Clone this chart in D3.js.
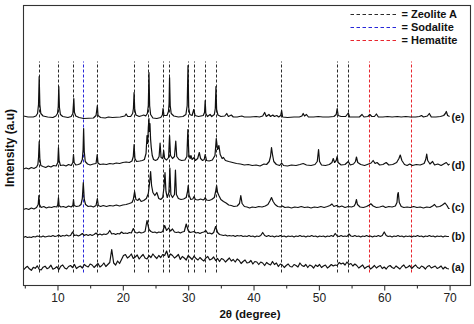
<!DOCTYPE html>
<html>
<head>
<meta charset="utf-8">
<script src="https://cdn.jsdelivr.net/npm/d3@7"></script>
<style>
  body { margin: 0; background: #fff; }
  svg { display: block; font-family: "Liberation Sans", Arial, Helvetica, sans-serif; }
</style>
</head>
<body>
<svg id="chart" width="474" height="324"></svg>
<script>
// ---- XRD patterns, 2θ in degrees, intensity in arbitrary units ----
const sampleLabels = ["(a)", "(b)", "(c)", "(d)", "(e)"];
const stackOffsets = [18, 49, 78, 120, 168];   // vertical shift of each pattern (a.u.)

// (a) and (b) recorded on a uniform 2θ grid
const gridStart = 4.8;
const gridStep = 0.3;

const traceA = [
  -2.3, -0.3, 1.2, -1.3, -2.8, 0.2, -0.8, 1.7, -1.8, -2.5,
  0.3, 1.3, -1.2, -0.2, 2.3, -1.7, -0.7, 0.8, -2.2, 1.3,
  2.5, -0.5, -1.5, 1, 2, 0, 3, -1, 0.5, 1.5,
  -0.5, 3, 1.5, 0.5, 3.5, 2.5, 0, 2, 4, 0.5,
  2, 4.5, 1, 3, 5, 18, 4.5, 2.5, 6.5, 4,
  8, 12, 13, 9.5, 11, 13.5, 9, 10.5, 12.5, 8.5,
  11, 13, 9.5, 8.5, 12, 10, 13.5, 11, 9, 12,
  10, 13, 12, 16.5, 10, 13.5, 12, 9.5, 11, 13,
  8, 11, 9.5, 7.5, 12, 10, 8, 11.5, 9, 7.5,
  10, 8, 6.5, 9.5, 11, 7.5, 8.5, 10.5, 7, 9,
  6, 9, 8, 5.5, 7.5, 9.5, 6.5, 8, 5.5, 8.5,
  7, 4, 6, 7.5, 4.5, 5, 7, 3.5, 6, 5.5,
  3, 5.5, 4.5, 2, 5, 3.5, 2.5, 6, 3, 4.5,
  1, 3.5, 2.5, 0, 2, 3.5, 1, 0.5, 3, 2,
  0.5, 4.5, 2, 1, 3, 0, 2.5, 1.5, -0.5, 2.5,
  1, 3, 0, 1.5, 2.5, -0.5, 1, 3, 1.5, 2.5,
  2, 5, 3.5, 4.5, 2.5, 5.5, 3, 4, 1.5, 3.5,
  2, -0.5, 1, 2.5, -1, 0.5, 1.5, -1.5, 0, 2,
  -0.5, 1, 2, -1, 0.5, -1.5, 1, 2, 0, -1,
  1.5, 0, -1.5, 1, 2.5, -0.5, 0.5, 2, -1, 1,
  2.5, 0, -1, 1.5, 0.5, -1.5, 1, 2, -0.5, 0.5,
  1.5, -1, 0, 1.5, -1.5, 0.5, -1, -1.5
];

const traceB = [
  -1, 0, -1, -0.5, -1, 0, -0.5, 0.5, 0, -0.5,
  0.5, -0.5, 0, 0.5, 0, 1, 0, 0.5, 1.5, 0,
  1, 0.5, 1.5, 0.5, 1, 4.5, 1, 1.5, 0.5, 1.5,
  3, 1, 2, 1, 2, 1, 2, 3.5, 1.5, 2.5,
  1.5, 2.5, 2, 3, 6, 2.5, 3, 2, 3, 2.5,
  4.5, 3, 3.5, 3, 4, 3.5, 8, 4, 3.5, 4.5,
  3.5, 4, 5, 16, 7, 5, 4, 4.5, 3.5, 4.5,
  4, 5, 11, 6, 8.5, 5.5, 7.5, 4.5, 4, 4.5,
  3.5, 4.5, 5, 12.5, 6, 4, 4.5, 5, 3.5, 4,
  3, 4, 4.5, 6, 3, 3.5, 2.5, 4, 10, 4,
  2, 1.5, 1, 1.5, 0.5, 1, 0.5, 1, 0, 1,
  0.5, 1, 0, 0.5, 0, 1, 0, 0.5, -0.5, 0.5,
  0, 1, 4, 1, 0, 1, 0, 0.5, -0.5, 0.5,
  0, 1, 0, 0.5, -0.5, 0.5, 0, 0.5, -0.5, 0.5,
  0, 1, 0, 0.5, -0.5, 0.5, 0, 1, 0, 0.5,
  -0.5, 0.5, 0, 0.5, -0.5, 0.5, 0, 1, 0, 3,
  0.5, 0, 1, 0, 0.5, 0, 2.5, 0.5, 0, 1,
  0, 0.5, -0.5, 0.5, 0, 1, 0, 0.5, -0.5, 0.5,
  0, 1, 0, 1, 4.5, 1, 0, 0.5, -0.5, 0.5,
  0, 1, 0, 0.5, -0.5, 0.5, 0, 0.5, -0.5, 0.5,
  0, 1, 0, 0.5, -0.5, 0.5, 0, 1, 0, 0.5,
  -0.5, 0.5, 0, 0.5, -0.5, 0.5, 0, 0
];

// (c), (d), (e) as [2θ, intensity] pairs
const traceC = [
  [4.8, -2], [5.2, -1], [5.6, -2], [6.0, -0.5], [6.4, -1.5], [6.8, 0], [7.05, 3], [7.15, 12], [7.25, 3], [7.5, 0],
  [7.9, 1], [8.3, -0.5], [8.7, 0.5], [9.1, 0], [9.5, 1], [9.9, 0.5], [10.05, 3], [10.15, 10], [10.25, 2], [10.5, 0.5],
  [10.9, 1], [11.3, 0], [11.7, 1.5], [12.1, 0.5], [12.35, 2], [12.45, 8], [12.55, 2], [12.9, 1], [13.3, 1.5], [13.6, 3],
  [13.8, 9], [13.95, 25], [14.1, 8], [14.3, 3], [14.7, 1], [15.1, 1.5], [15.5, 0.5], [15.9, 2], [16.1, 9], [16.25, 2],
  [16.6, 1], [17.0, 2], [17.5, 1], [18.0, 2], [18.5, 1.5], [19.0, 2.5], [19.5, 1.5], [20.0, 2.5], [20.5, 3], [21.0, 4],
  [21.4, 5], [21.6, 8], [21.8, 16], [22.0, 8], [22.3, 7], [22.5, 9], [22.8, 6], [23.2, 7], [23.6, 9], [23.9, 14],
  [24.1, 25], [24.25, 36], [24.4, 22], [24.6, 15], [24.9, 12], [25.2, 15], [25.5, 9], [25.8, 8], [26.1, 10], [26.3, 20],
  [26.45, 35], [26.6, 16], [26.8, 10], [27.05, 15], [27.2, 39.5], [27.35, 13], [27.6, 10], [27.9, 13], [28.05, 37.5], [28.2, 13],
  [28.5, 9], [28.9, 8], [29.3, 8.5], [29.7, 10], [29.9, 16], [30.0, 22], [30.15, 12], [30.4, 8], [30.7, 8.5], [30.9, 11],
  [31.1, 8], [31.5, 7.5], [31.9, 8.5], [32.3, 7.5], [32.5, 8.5], [32.6, 10], [32.8, 7.5], [33.2, 7], [33.6, 8], [34.0, 10],
  [34.2, 16], [34.35, 22], [34.5, 15], [34.7, 12], [35.0, 8], [35.4, 6], [35.8, 4.5], [36.2, 2.5], [36.6, 2], [37.0, 1],
  [37.5, 1.5], [37.85, 4], [38.05, 12], [38.25, 4], [38.6, 1], [39.0, 0.5], [39.4, -0.5], [39.8, 0.5], [40.3, 0], [40.8, 1],
  [41.3, 0.5], [41.8, 1.5], [42.2, 3], [42.5, 6.5], [42.75, 10], [43.0, 6], [43.3, 3], [43.7, 1], [44.1, 0.5], [44.4, 1.5],
  [44.8, 0], [45.3, 0.5], [45.8, -0.5], [46.3, 0.5], [46.8, 0], [47.3, 1], [47.8, 0], [48.3, 0.5], [48.8, -0.5], [49.3, 0.5],
  [49.8, 0], [50.3, 1], [50.8, 0], [51.3, 1], [51.7, 2], [52.0, 3.5], [52.3, 1], [52.7, 2], [53.1, 0.5], [53.5, 1.5],
  [54.0, 0], [54.5, 1], [55.0, 0.5], [55.4, 1.5], [55.6, 4], [55.75, 8], [55.9, 3], [56.3, 0.5], [56.8, 0], [57.3, 1],
  [57.7, 2.5], [57.95, 3.7], [58.3, 1.5], [58.8, 0], [59.3, 0.5], [59.8, 1.5], [60.2, 0], [60.7, 1], [61.2, 0.5], [61.7, 1.5],
  [61.95, 5], [62.05, 13], [62.15, 15], [62.3, 5], [62.6, 1], [63.0, 0], [63.5, 0.5], [64.0, 0], [64.5, 1], [65.0, 0],
  [65.5, 0.5], [66.0, -0.5], [66.5, 0.5], [67.0, 0], [67.4, 1.5], [67.7, 3], [68.0, 0.5], [68.5, 1], [68.9, 2.5], [69.3, 4.5],
  [69.6, 2], [69.85, -1], [70.0, -1]
];

const traceD = [
  [4.8, -3.5], [5.2, -2.5], [5.6, -3.5], [6.0, -2], [6.4, -3], [6.8, -1.5], [7.0, 1], [7.1, 8], [7.2, 24], [7.3, 7],
  [7.45, 0], [7.8, -1], [8.2, -2], [8.6, -0.5], [9.0, -1.5], [9.4, 0], [9.8, -0.5], [10.05, 3], [10.15, 18], [10.25, 5],
  [10.45, 0], [10.9, 0.5], [11.3, -0.5], [11.7, 1], [12.1, 0], [12.35, 3], [12.45, 11], [12.55, 3], [12.8, 0.5], [13.2, 1],
  [13.55, 2], [13.8, 6], [13.92, 16], [14.0, 37], [14.1, 14], [14.25, 4], [14.6, 1.5], [15.0, 0.5], [15.5, 1.5], [15.9, 2],
  [16.08, 11], [16.2, 2.5], [16.5, 1], [17.0, 1.5], [17.5, 1], [18.0, 2], [18.5, 1.5], [19.0, 2.5], [19.5, 2], [20.0, 3],
  [20.5, 3.5], [21.0, 3], [21.4, 4.5], [21.6, 9], [21.72, 21], [21.85, 7], [22.1, 4], [22.6, 4.5], [23.0, 5], [23.3, 6],
  [23.55, 12], [23.7, 30], [23.8, 22], [23.9, 38], [24.0, 47], [24.07, 34], [24.15, 42], [24.25, 26], [24.35, 18], [24.5, 10],
  [24.7, 6], [25.0, 5], [25.3, 6], [25.55, 9], [25.7, 22.5], [25.85, 8], [26.1, 7], [26.25, 15], [26.4, 7], [26.7, 5.5],
  [27.0, 8], [27.15, 30], [27.3, 10], [27.6, 7], [27.9, 9], [28.1, 24.5], [28.25, 9], [28.6, 6], [29.0, 5], [29.5, 5.5],
  [29.8, 9], [29.95, 36], [30.1, 11], [30.3, 7], [30.42, 10], [30.6, 6], [30.9, 8], [31.1, 5], [31.45, 7], [31.7, 13],
  [31.9, 7], [32.2, 5], [32.45, 6], [32.6, 11], [32.8, 5], [33.2, 4.5], [33.7, 5.5], [34.1, 10], [34.3, 27], [34.5, 16],
  [34.7, 20], [34.9, 11], [35.2, 7], [35.4, 8], [35.7, 5], [36.2, 4], [36.8, 3], [37.4, 2], [38.0, 1.5], [38.6, 0.5],
  [39.2, 1], [39.8, 0], [40.4, 0.5], [41.0, -0.5], [41.6, 1.5], [42.0, 1], [42.4, 4], [42.6, 9], [42.75, 18], [42.9, 11],
  [43.1, 4], [43.5, 1], [44.0, 0], [44.3, 2.5], [44.6, 0], [45.2, -0.5], [45.8, 0.5], [46.5, 0], [47.1, 1], [47.6, 2],
  [48.1, 0.5], [48.8, 0], [49.4, 1], [49.75, 4], [49.95, 16], [50.1, 4], [50.4, 0.5], [51.0, 0], [51.6, 1], [52.0, 3],
  [52.2, 7], [52.4, 3], [52.65, 5], [52.8, 9], [52.95, 3], [53.4, 0.5], [54.0, 1], [54.5, 4], [54.8, 0.5], [55.3, 1.5],
  [55.6, 4], [55.75, 8.5], [55.95, 3], [56.4, 1], [57.0, 0], [57.6, 1.5], [58.0, 2.5], [58.3, 5], [58.6, 2], [58.9, 3],
  [59.3, 0.5], [59.8, 1], [60.3, 3], [60.7, 0.5], [61.3, 1], [61.9, 3], [62.25, 7], [62.45, 10.5], [62.7, 5], [63.1, 1],
  [63.5, 0], [63.9, 1.5], [64.3, 0], [64.9, 1], [65.5, 0.5], [66.1, 2], [66.35, 6], [66.5, 11.5], [66.65, 5], [67.0, 1.5],
  [67.4, 4], [67.7, 0.5], [68.2, 1.5], [68.7, 0], [69.1, 1.5], [69.5, 3], [69.8, 0.5], [70.0, 1.5]
];

const traceE = [
  [4.8, 1.5], [5.5, 0.5], [6.3, 0.5], [6.7, 1.5], [6.95, 4], [7.1, 13], [7.2, 41], [7.3, 13], [7.45, 4], [7.8, 1.5],
  [8.5, 0.5], [9.3, 0], [9.75, 1.5], [10.0, 4], [10.12, 11], [10.2, 31], [10.3, 10], [10.45, 3], [10.8, 1], [11.6, 0],
  [12.1, 1], [12.35, 4], [12.5, 19], [12.6, 5], [12.8, 1.5], [13.3, 0], [14.0, -1], [15.5, -0.5], [15.9, 2], [16.1, 12],
  [16.2, 2], [16.6, 0], [17.3, -0.5], [17.8, 0.5], [18.4, 0], [19.6, 0.5], [20.3, 1.5], [20.5, 3.5], [20.75, 1], [21.2, 1],
  [21.5, 4], [21.62, 9], [21.72, 25], [21.82, 8], [22.0, 2.5], [22.5, 1], [23.0, 2], [23.2, 2.5], [23.5, 1.5], [23.75, 4],
  [23.9, 12], [24.0, 45], [24.1, 12], [24.25, 3], [24.6, -0.5], [25.2, -1], [25.8, 0], [26.05, 2.5], [26.15, 9], [26.3, 2],
  [26.75, 2], [26.98, 6], [27.08, 14], [27.15, 40], [27.25, 12], [27.4, 4], [27.8, 1.5], [28.5, 0.5], [29.2, 1], [29.65, 3],
  [29.85, 12], [29.97, 52], [30.08, 10], [30.25, 3], [30.6, 2], [30.85, 8], [31.05, 2], [31.6, 1], [32.3, 2], [32.5, 5],
  [32.6, 17], [32.7, 4], [32.95, 1], [33.35, 3], [33.6, 1], [34.0, 3], [34.15, 9], [34.25, 31], [34.35, 8], [34.55, 2.5],
  [35.0, 1], [35.6, 1.5], [35.9, 4], [36.15, 1], [36.6, 2.5], [36.9, 0.5], [37.5, 0.5], [38.2, 1.5], [38.6, 0.5], [39.5, 0.5],
  [40.4, 1], [40.9, 0.5], [41.4, 1.5], [41.7, 5], [41.95, 1], [42.35, 3], [42.6, 1], [42.95, 2.5], [43.2, 1], [43.55, 2],
  [43.85, 0.5], [44.15, 2], [44.3, 7], [44.45, 0.5], [45.2, 0], [46.2, 0.5], [47.0, 0.5], [47.4, 1.5], [47.6, 4], [47.8, 1.5],
  [48.1, 3], [48.4, 0.5], [49.2, 0.5], [49.9, 1], [50.6, 0.5], [51.5, 0.5], [52.3, 1], [52.65, 3], [52.8, 9], [52.95, 2],
  [53.4, 1], [54.1, 1], [54.5, 4.5], [54.7, 0.5], [55.5, 0.5], [56.2, 0.5], [56.6, 3], [56.9, 0.5], [57.5, 1], [57.8, 3],
  [58.1, 1], [58.5, 1], [58.8, 3.5], [59.1, 0.5], [59.8, 0.5], [60.5, 1], [61.2, 0.5], [62.0, 1], [62.6, 0.5], [63.3, 1],
  [64.0, 0.5], [64.8, 0.5], [65.4, 1], [65.7, 2], [66.0, 0.5], [66.6, 1.5], [66.9, 4], [67.2, 0.5], [67.9, 0.5], [68.6, 1],
  [69.1, 2], [69.35, 4], [69.5, 6], [69.7, 2], [70.0, 1]
];

// reference reflections of each phase (2θ)
const zeoliteA = [7.2, 10.2, 12.5, 16.15, 21.75, 24.0, 26.2, 27.2, 30.05, 30.95, 32.6, 34.3, 44.3, 52.8, 54.5];
const sodalite = [14.0];
const hematite = [57.7, 64.15];
const phaseNames = ["= Zeolite A", "= Sodalite", "= Hematite"];
const phaseColors = ["#2b2b2b", "#2727d8", "#e8262e"];

const xTicks = [10, 20, 30, 40, 50, 60, 70];
const xMinorTicks = [5, 15, 25, 35, 45, 55, 65];
const xTitle = "2\u03b8 (degree)";
const yTitle = "Intensity (a.u)";

// ---- layout ----
const plot = { left: 23.5, top: 5.5, right: 470.5, bottom: 285.5 };
const refSpan = [13, 224];   // vertical extent of the reference lines (a.u.)

const svg = d3.select("#chart");
const x = d3.scaleLinear().domain([4.8, 73.2]).range([plot.left, plot.right]);
const y = d3.scaleLinear().domain([0, 280]).range([plot.bottom, plot.top]);
const crisp = v => Math.floor(v) + 0.5;   // snap thin vertical strokes to the pixel grid

const onGrid = vals => vals.map((v, i) => [gridStart + i * gridStep, v]);
const traces = [onGrid(traceA), onGrid(traceB), traceC, traceD, traceE];

// reference lines behind the patterns
const phases = [zeoliteA, sodalite, hematite];
phases.forEach((list, pi) => {
  svg.append("g").selectAll("line").data(list).join("line")
    .attr("x1", d => crisp(x(d))).attr("x2", d => crisp(x(d)))
    .attr("y1", y(refSpan[0])).attr("y2", y(refSpan[1]))
    .attr("stroke", phaseColors[pi])
    .attr("stroke-width", 1)
    .attr("stroke-dasharray", "3,2");
});

// stacked patterns
const line = d3.line().x(d => x(d[0]));
traces.forEach((tr, i) => {
  svg.append("path")
    .datum(tr)
    .attr("fill", "none")
    .attr("stroke", "#111")
    .attr("stroke-width", 1.2)
    .attr("stroke-linejoin", "round")
    .attr("d", line.y(d => y(d[1] + stackOffsets[i])));
});

// sample labels at right end
svg.append("g").selectAll("text").data(sampleLabels).join("text")
  .attr("x", x(70.3))
  .attr("y", (d, i) => y(stackOffsets[i]))
  .attr("dy", "0.35em")
  .attr("font-size", 10.5)
  .attr("font-weight", "bold")
  .attr("fill", "#111")
  .text(d => d);

// frame
svg.append("rect")
  .attr("x", plot.left).attr("y", plot.top)
  .attr("width", plot.right - plot.left).attr("height", plot.bottom - plot.top)
  .attr("fill", "none").attr("stroke", "#333").attr("stroke-width", 1.1);

// bottom axis
const ax = svg.append("g")
  .attr("transform", `translate(0,${plot.bottom})`)
  .call(d3.axisBottom(x).tickValues(xTicks).tickSize(5).tickPadding(3).tickFormat(d3.format("d")));
ax.select(".domain").remove();
ax.selectAll(".tick line").attr("stroke", "#333").attr("stroke-width", 1.1);
ax.selectAll(".tick text").attr("font-size", 12).attr("fill", "#222")
  .attr("font-family", "'Liberation Sans', Arial, sans-serif");

const axMinor = svg.append("g")
  .attr("transform", `translate(0,${plot.bottom})`)
  .call(d3.axisBottom(x).tickValues(xMinorTicks).tickSize(3).tickFormat(""));
axMinor.select(".domain").remove();
axMinor.selectAll(".tick line").attr("stroke", "#333").attr("stroke-width", 1.1);

// axis titles
svg.append("text")
  .attr("x", (plot.left + plot.right) / 2 + 3).attr("y", 318)
  .attr("text-anchor", "middle")
  .attr("font-size", 11.5).attr("font-weight", "bold").attr("fill", "#111")
  .text(xTitle);

svg.append("text")
  .attr("transform", "translate(14,148) rotate(-90)")
  .attr("text-anchor", "middle")
  .attr("font-size", 12).attr("font-weight", "bold").attr("fill", "#111")
  .text(yTitle);

// legend
const legend = svg.append("g").attr("transform", "translate(350.5,14.5)");
phaseNames.forEach((name, i) => {
  const g = legend.append("g").attr("transform", `translate(0,${i * 13})`);
  g.append("line").attr("x1", 0).attr("x2", 47.5).attr("y1", 0).attr("y2", 0)
    .attr("stroke", phaseColors[i]).attr("stroke-width", 1)
    .attr("stroke-dasharray", "3.5,2.5");
  g.append("text").attr("x", 51).attr("y", 0).attr("dy", "0.35em")
    .attr("font-size", 11).attr("font-weight", "bold").attr("fill", "#111")
    .text(name);
});
</script>
</body>
</html>
